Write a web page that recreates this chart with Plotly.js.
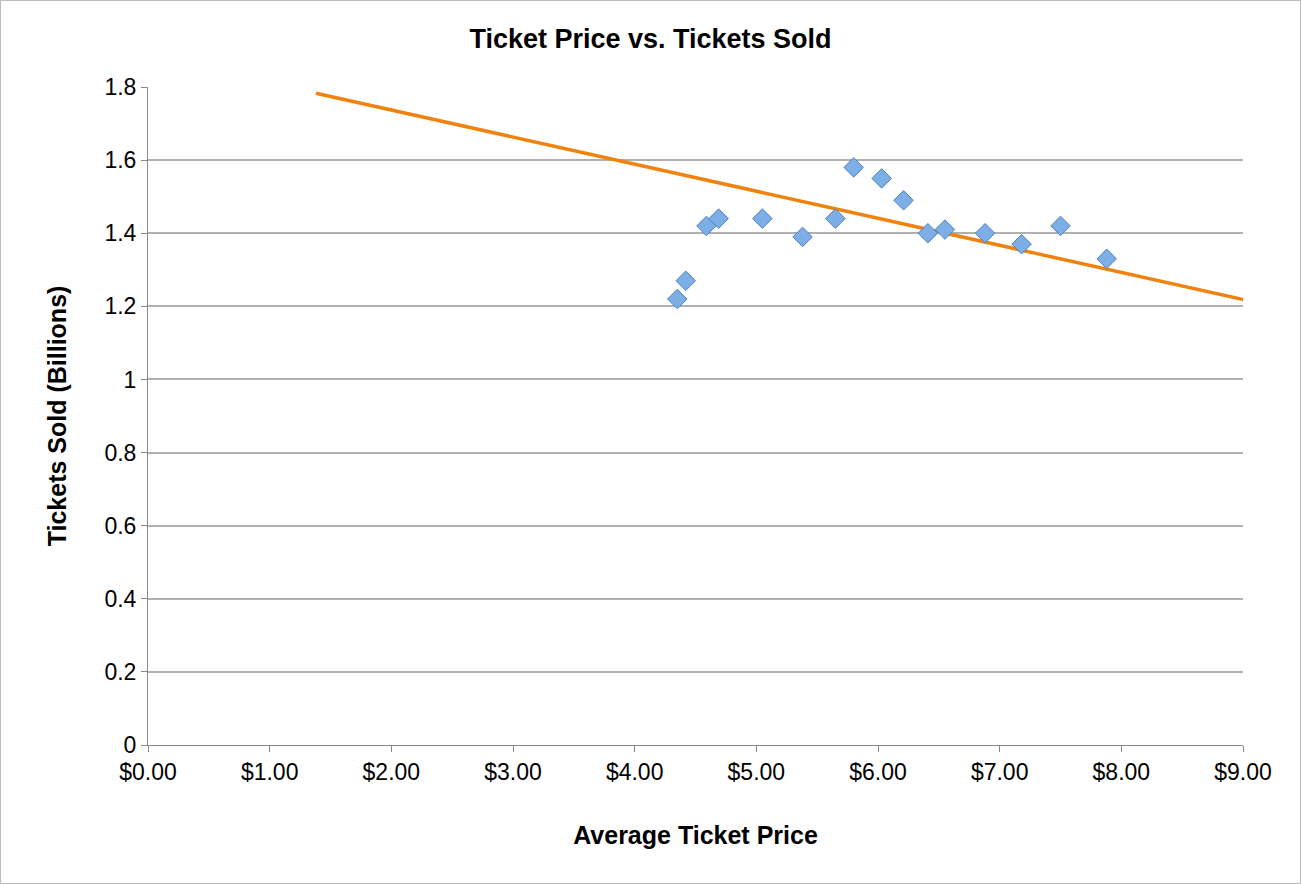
<!DOCTYPE html>
<html><head><meta charset="utf-8">
<script src="https://cdn.plot.ly/plotly-3.0.1.min.js"></script>
<style>body{margin:0}#c{width:1299px;height:882px;border:1px solid #bbb}</style>
</head><body><div id="c"></div>
<script>
const price = [4.35,4.42,4.59,4.69,5.05,5.38,5.65,5.80,6.03,6.21,6.41,6.55,6.88,7.18,7.50,7.88];
const sold  = [1.22,1.27,1.42,1.44,1.44,1.39,1.44,1.58,1.55,1.49,1.40,1.41,1.40,1.37,1.42,1.33];
const trendX = [1.38,9.43];
const trendY = [1.783,1.187];
const F = "Liberation Sans, Arial, sans-serif";
Plotly.newPlot('c',[
 {x:trendX,y:trendY,mode:'lines',line:{color:'#F0820F',width:3.5},hoverinfo:'skip'},
 {x:price,y:sold,mode:'markers',marker:{symbol:'diamond',size:15,color:'#7EAEE6',line:{color:'#4F81BD',width:1}}}
],{
 width:1299,height:882,showlegend:false,
 margin:{l:147,r:57,t:86,b:138},
 paper_bgcolor:'#fff',plot_bgcolor:'#fff',
 title:{text:'<b>Ticket Price vs. Tickets Sold</b>',font:{family:F,size:27,color:'#000'},x:0.5,y:0.957,yanchor:'middle'},
 xaxis:{range:[0,9],dtick:1,tickprefix:'$',tickformat:'.2f',showgrid:false,zeroline:false,
   showline:true,linecolor:'#888',ticks:'outside',ticklen:6,tickcolor:'#888',
   tickfont:{family:F,size:23,color:'#000'},
   title:{text:'<b>Average Ticket Price</b>',font:{family:F,size:25,color:'#000'},standoff:42}},
 yaxis:{range:[0,1.8],dtick:0.2,showgrid:true,gridcolor:'#b0b0b0',gridwidth:1.5,zeroline:false,
   showline:true,linecolor:'#888',ticks:'outside',ticklen:6,tickcolor:'#888',
   tickfont:{family:F,size:23,color:'#000'},
   title:{text:'<b>Tickets Sold (Billions)</b>',font:{family:F,size:25,color:'#000'},standoff:30}}
},{displayModeBar:false});
</script></body></html>
